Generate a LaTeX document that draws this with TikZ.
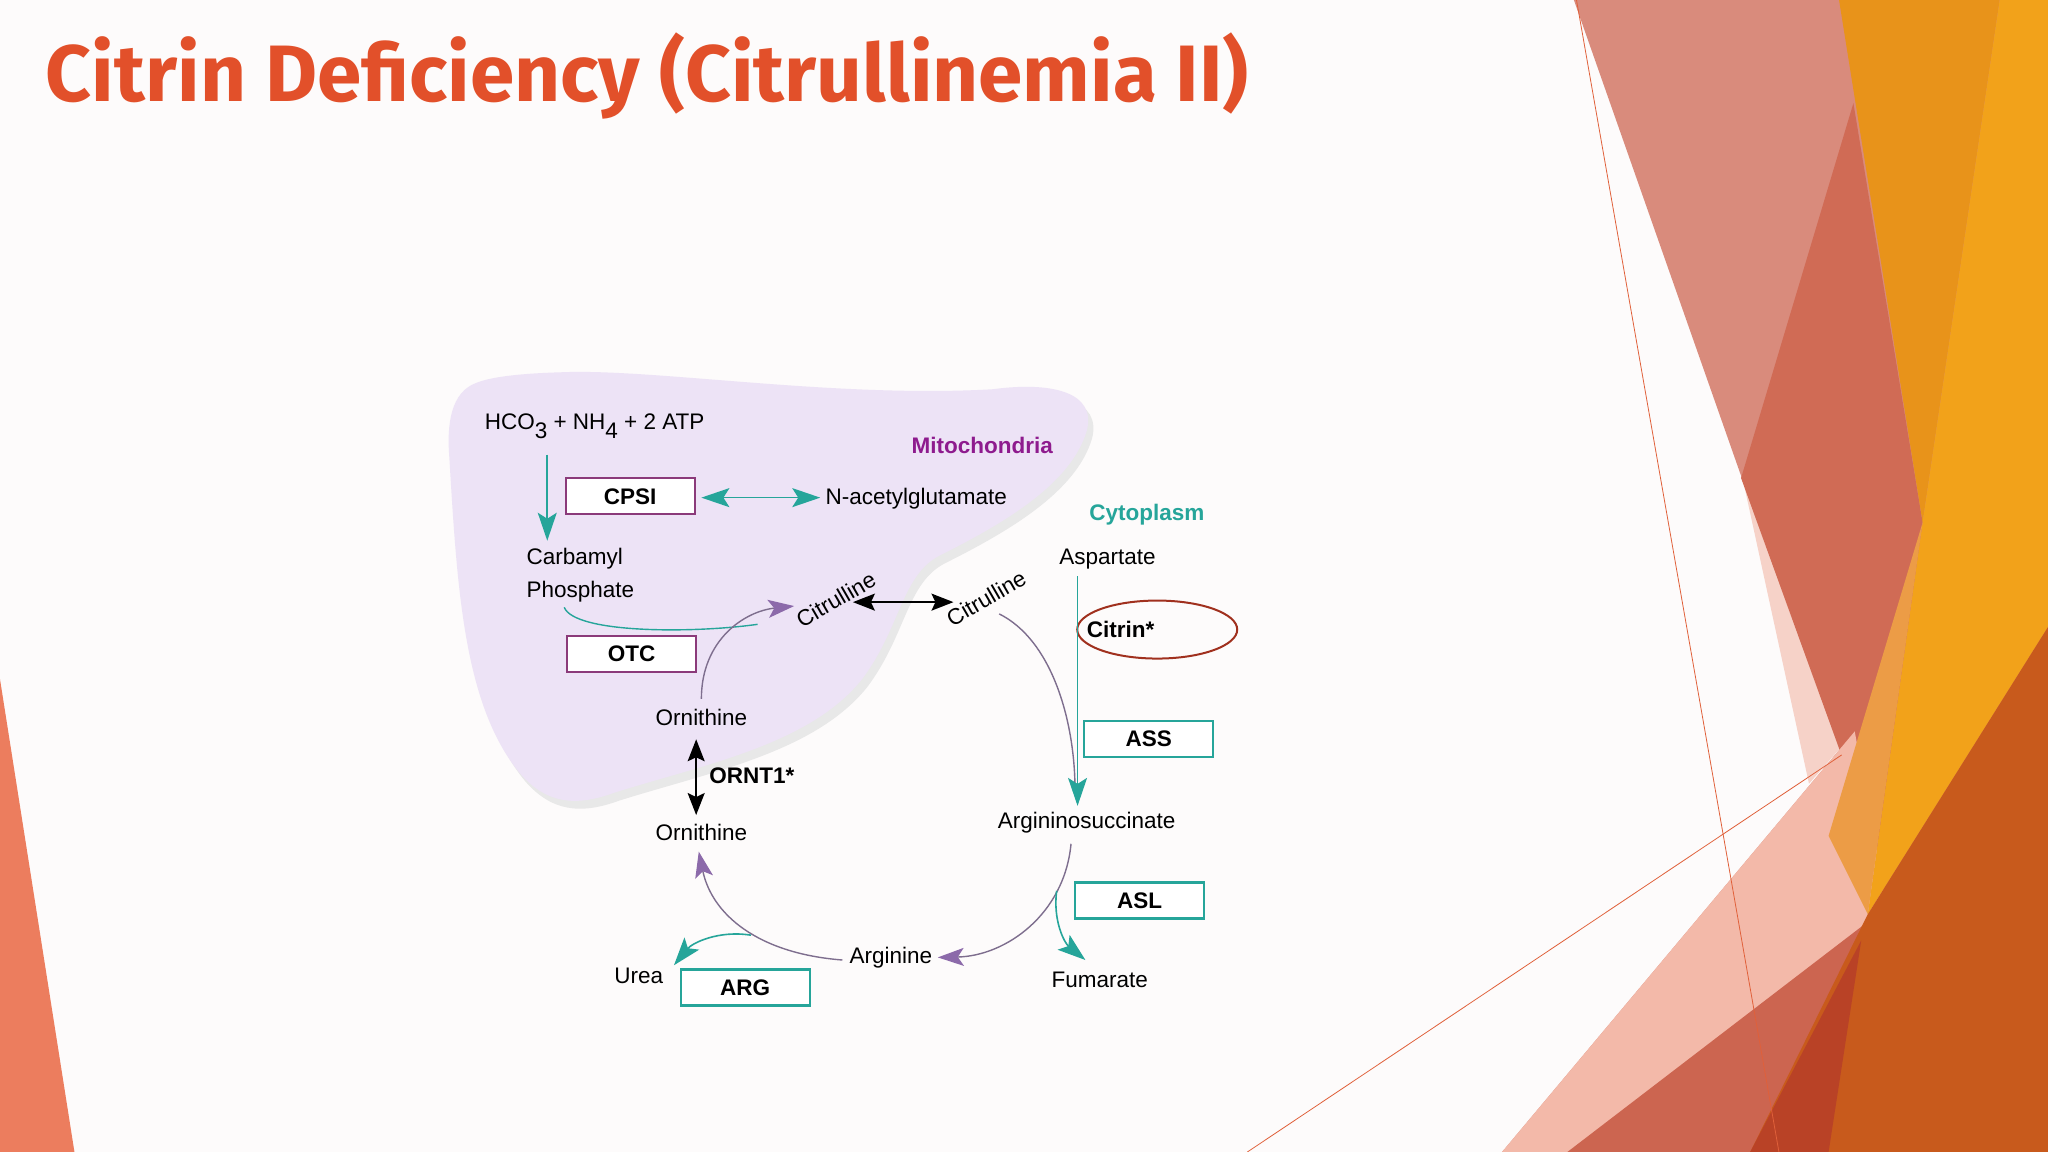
\documentclass[tikz,border=0pt]{standalone}
\usepackage{fontspec}
\setmainfont{Liberation Sans}
\newfontfamily\titlefont{Fira Sans}
\usetikzlibrary{arrows.meta,shapes.geometric}
\definecolor{tl}{HTML}{26A59A}
\definecolor{pbox}{HTML}{8B3A7A}
\definecolor{mito}{HTML}{8E1B8E}
\definecolor{blob}{HTML}{EDE3F6}
\definecolor{parr}{HTML}{8C6AAA}
\definecolor{pline}{HTML}{7E6E8E}
\definecolor{ttl}{HTML}{E2502A}
\definecolor{bgc}{HTML}{FDFBFB}
\definecolor{cred}{HTML}{A0301E}
\begin{document}
\begin{tikzpicture}[x=1.306pt,y=-1.306pt,
 txt/.style={inner sep=0pt,font=\fontsize{22.5}{26}\selectfont},
 btxt/.style={inner sep=0pt,font=\fontsize{22.5}{26}\selectfont\bfseries},
 box/.style={draw,line width=2.2pt,minimum width=129pt,minimum height=36pt,inner sep=0pt,font=\fontsize{22.5}{26}\selectfont\bfseries},
 pbx/.style={box,draw=pbox,fill=white},
 tbx/.style={box,draw=tl,fill=white},
 tarr/.style={draw=tl,line width=1.6pt,-{Stealth[length=28pt,width=19pt,inset=6pt]}},
 tdarr/.style={draw=tl,line width=1.6pt,{Stealth[length=28pt,width=19pt,inset=6pt]}-{Stealth[length=28pt,width=19pt,inset=6pt]}},
 parrow/.style={draw=pline,line width=1.4pt,-{Stealth[length=26pt,width=18pt,inset=6pt,color=parr]}},
 bdarr/.style={draw=black,line width=1.8pt,{Stealth[length=22pt,width=17pt,inset=4pt]}-{Stealth[length=22pt,width=17pt,inset=4pt]}}]
\useasboundingbox (0,0) rectangle (1568,882);
\fill[bgc] (0,0) rectangle (1568,882);
% decorations
\fill[color={rgb,255:red,236;green,125;blue,94}] (0,520) -- (57,882) -- (0,882) -- cycle;
\fill[color={rgb,255:red,217;green,139;blue,124}] (1205,0) -- (1568,0) -- (1568,882) -- (1150,882) -- (1420,560) -- (1335,370) -- cycle;
\fill[color={rgb,255:red,246;green,210;blue,200}] (1335,370) -- (1420,560) -- (1385,600) -- cycle;
\fill[color={rgb,255:red,208;green,107;blue,85}] (1419,79) -- (1472,400) -- (1437,653) -- (1333,366) -- cycle;
\fill[color={rgb,255:red,243;green,185;blue,169}] (1150,882) -- (1420,560) -- (1480,882) -- cycle;
\fill[color={rgb,255:red,204;green,101;blue,80}] (1200,882) -- (1568,600) -- (1568,882) -- cycle;
\fill[color={rgb,255:red,232;green,147;blue,26}] (1408,0) -- (1531,0) -- (1472,400) -- cycle;
\fill[color={rgb,255:red,242;green,162;blue,26}] (1531,0) -- (1568,0) -- (1568,480) -- (1430,700) -- (1472,400) -- cycle;
\fill[color={rgb,255:red,236;green,156;blue,70}] (1472,400) -- (1430,700) -- (1400,640) -- cycle;
\fill[color={rgb,255:red,200;green,90;blue,28}] (1340,882) -- (1430,700) -- (1568,480) -- (1568,882) -- cycle;
\fill[color={rgb,255:red,185;green,66;blue,38}] (1340,882) -- (1425,720) -- (1400,882) -- cycle;
\draw[color={rgb,255:red,224;green,96;blue,58},line width=0.8pt] (1207,0) -- (1362,882);
\draw[color={rgb,255:red,224;green,96;blue,58},line width=0.8pt] (955,882) -- (1410,578);
% title
\node[anchor=base west,inner sep=0pt,text=ttl,font=\titlefont\bfseries\fontsize{80}{86}\selectfont] (title) at (35,78) {Citrin Deficiency (Citrullinemia II)};
% blob
\def\blobpath{(365,293) .. controls (345,300) and (342,325) .. (344,350)
 .. controls (350,450) and (355,540) .. (398,592)
 .. controls (418,615) and (440,618) .. (470,607)
 .. controls (540,585) and (620,570) .. (660,520)
 .. controls (690,480) and (690,440) .. (720,425)
 .. controls (770,400) and (820,370) .. (832,330)
 .. controls (840,300) and (805,292) .. (760,298)
 .. controls (640,305) and (500,282) .. (430,285) .. controls (395,286) and (375,289) .. (365,293) -- cycle}
\fill[black!9,shift={(4,6)}] \blobpath;
\fill[blob] \blobpath;
% texts
\node[txt,anchor=west] (hco) at (371,326) {HCO\raisebox{-9pt}{3} + NH\raisebox{-9pt}{4} + 2 ATP};
\node[btxt,text=mito] (mitl) at (752,341) {Mitochondria};
\node[btxt,text=tl] (cyto) at (878,394) {Cytoplasm};
\node[pbx] (cpsi) at (482.5,380) {CPSI};
\node[txt,anchor=west] (nag) at (632,382) {N-acetylglutamate};
\node[txt,anchor=west] (carb) at (403,428) {Carbamyl};
\node[txt,anchor=west] (phos) at (403,453) {Phosphate};
\node[pbx] (otc) at (483.5,500.5) {OTC};
\node[txt,rotate=30] (cit1) at (640,459) {Citrulline};
\node[txt,rotate=30] (cit2) at (755,458) {Citrulline};
\node[txt] (asp) at (848,428) {Aspartate};
\node[draw=cred,line width=2pt,ellipse,minimum width=160pt,minimum height=58pt,inner sep=0pt] (citr) at (886,482) {};
\node[btxt,anchor=west] (citrl) at (832,482) {Citrin*};
\node[tbx] (ass) at (879.5,565.5) {ASS};
\node[txt] (argsu) at (832,630) {Argininosuccinate};
\node[tbx] (asl) at (872.5,689.5) {ASL};
\node[txt] (fum) at (842,750) {Fumarate};
\node[txt] (arg) at (682,733) {Arginine};
\node[txt] (urea) at (489,747) {Urea};
\node[tbx] (argb) at (570.5,756) {ARG};
\node[txt] (orn1) at (537,549) {Ornithine};
\node[txt] (orn2) at (537,637) {Ornithine};
\node[btxt,anchor=west] (ornt) at (543,594) {ORNT1*};
% connectors
\coordinate (a1) at (419,348); \coordinate (a2) at (419,414);
\draw[tarr] (a1) -- (a2);
\coordinate (c1) at (537,381); \coordinate (c2) at (628,381);
\draw[tdarr] (c1) -- (c2);
\coordinate (p1) at (432,465); \coordinate (p2) at (580,478);
\draw[draw=tl,line width=1.4pt] (p1) .. controls (440,485) and (530,485) .. (p2);
\coordinate (o1) at (537,535); \coordinate (o2) at (608,464);
\draw[parrow] (o1) .. controls (537,490) and (570,468) .. (o2);
\coordinate (d1) at (653,461); \coordinate (d2) at (730,461);
\draw[bdarr] (d1) -- (d2);
\coordinate (r1) at (765,470); \coordinate (r2) at (823,600);
\draw[draw=pline,line width=1.4pt] (r1) .. controls (805,490) and (822,550) .. (r2);
\coordinate (s1) at (825,441); \coordinate (s2) at (825,617);
\draw[tarr,line width=1.2pt] (s1) -- (s2);
\coordinate (g1) at (820,646); \coordinate (g2) at (718,733);
\draw[parrow] (g1) .. controls (815,700) and (770,732) .. (g2);
\coordinate (f1) at (809,682); \coordinate (f2) at (831,735);
\draw[tarr] (f1) .. controls (806,705) and (815,722) .. (f2);
\coordinate (h1) at (645,735); \coordinate (h2) at (535,652);
\draw[parrow] (h1) .. controls (580,730) and (545,700) .. (h2);
\coordinate (u1) at (575,716); \coordinate (u2) at (516,739);
\draw[tarr] (u1) .. controls (550,712) and (530,722) .. (u2);
\coordinate (t1) at (533,566); \coordinate (t2) at (533,624);
\draw[bdarr] (t1) -- (t2);
\end{tikzpicture}
\end{document}
